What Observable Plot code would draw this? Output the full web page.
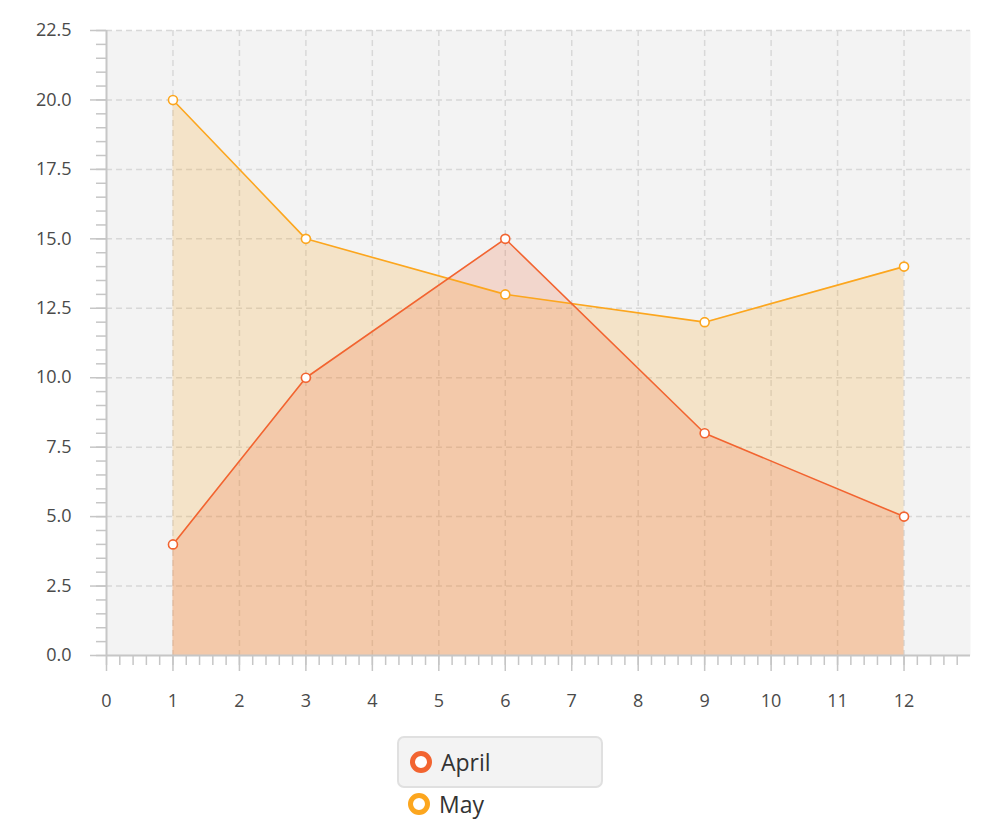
<!DOCTYPE html>
<html>
<head>
<meta charset="utf-8">
<script src="https://cdn.jsdelivr.net/npm/d3@7"></script>
<script src="https://cdn.jsdelivr.net/npm/@observablehq/plot@0.6"></script>
<style>
  body { margin: 0; background: #fff; font-family: "Open Sans", "Noto Sans", sans-serif; overflow: hidden; }
  #wrap { position: relative; width: 1000px; height: 820px; overflow: hidden; }
  #chart { position: absolute; left: 0; top: 0; }
  #legend { position: absolute; left: 397px; top: 736px; }
  .item { display: flex; align-items: center; height: 32px; padding: 0 11px; font-size: 23px; line-height: 1; color: #333; box-sizing: border-box; }
  .item.sel { width: 206px; height: 52px; background: #f3f3f3; border: 2px solid #e0e0e0; border-radius: 7px; padding-left: 11px; }
  .ring { width: 12px; height: 12px; border-radius: 50%; border: 5px solid; background: #fff; margin-right: 9px; flex: none; }
</style>
</head>
<body>
<div id="wrap">
  <div id="chart"></div>
  <div id="legend"></div>
</div>
<script>
const months = ["April", "May"];
const colors = ["#f26430", "#fca61e"];
const xs = [1, 3, 6, 9, 12];
const aprilValues = [4, 10, 15, 8, 5];
const mayValues = [20, 15, 13, 12, 14];
const xTickLabels = [0, 1, 2, 3, 4, 5, 6, 7, 8, 9, 10, 11, 12];
const yTickLabels = [0, 2.5, 5, 7.5, 10, 12.5, 15, 17.5, 20, 22.5];

const april = xs.map((x, i) => ({x, y: aprilValues[i]}));
const may = xs.map((x, i) => ({x, y: mayValues[i]}));

const xMinor = d3.range(0, 65).map(i => i / 5);
const yMinor = d3.range(0, 46).map(i => i / 2);
const gridStyle = {stroke: "#d8d8d8", strokeOpacity: 1, strokeWidth: 1.5, strokeDasharray: "6,4"};
const axisColor = "#c6c6c6";

const chart = Plot.plot({
  width: 1000,
  height: 720,
  marginLeft: 106,
  marginRight: 30,
  marginTop: 30,
  marginBottom: 65,
  style: {fontFamily: "'Open Sans', 'Noto Sans', sans-serif", background: "transparent"},
  x: {domain: [0, 13], label: null},
  y: {domain: [0, 22.5], label: null},
  marks: [
    Plot.frame({fill: "#f3f3f3", stroke: null}),
    Plot.gridX(xTickLabels.filter(d => d > 0), gridStyle),
    Plot.gridY(yTickLabels.filter(d => d > 0), gridStyle),
    Plot.areaY(may, {x: "x", y: "y", fill: colors[1], fillOpacity: 0.2}),
    Plot.areaY(april, {x: "x", y: "y", fill: colors[0], fillOpacity: 0.2}),
    Plot.line(may, {x: "x", y: "y", stroke: colors[1], strokeWidth: 1.6}),
    Plot.line(april, {x: "x", y: "y", stroke: colors[0], strokeWidth: 1.6}),
    Plot.dot(may, {x: "x", y: "y", r: 4.5, fill: "#fff", stroke: colors[1], strokeWidth: 1.6}),
    Plot.dot(april, {x: "x", y: "y", r: 4.5, fill: "#fff", stroke: colors[0], strokeWidth: 1.6}),
    Plot.axisY(yMinor, {tickSize: 10, tickFormat: () => "", color: axisColor, strokeWidth: 1.5, label: null}),
    Plot.axisY(yTickLabels, {tickSize: 16, tickFormat: () => "", color: axisColor, strokeWidth: 1.5, label: null}),
    Plot.axisY(yTickLabels, {tickSize: 0, tickPadding: 35, tickFormat: d3.format(".1f"), color: "#4a4a4a", fontSize: 18, label: null}),
    Plot.axisX(xMinor, {tickSize: 10, tickFormat: () => "", color: axisColor, strokeWidth: 1.5, label: null}),
    Plot.axisX(xTickLabels, {tickSize: 16, tickFormat: () => "", color: axisColor, strokeWidth: 1.5, label: null}),
    Plot.axisX(xTickLabels, {tickSize: 0, tickPadding: 39, tickFormat: d => String(d), color: "#4a4a4a", fontSize: 18, label: null}),
    Plot.ruleX([0], {stroke: axisColor, strokeWidth: 2}),
    Plot.ruleY([0], {stroke: axisColor, strokeWidth: 2})
  ]
});
document.getElementById("chart").appendChild(chart);

const legend = document.getElementById("legend");
months.forEach((m, i) => {
  const item = document.createElement("div");
  item.className = "item" + (i === 0 ? " sel" : "");
  const ring = document.createElement("span");
  ring.className = "ring";
  ring.style.borderColor = colors[i];
  const label = document.createElement("span");
  label.textContent = m;
  item.appendChild(ring);
  item.appendChild(label);
  legend.appendChild(item);
});
</script>
</body>
</html>
